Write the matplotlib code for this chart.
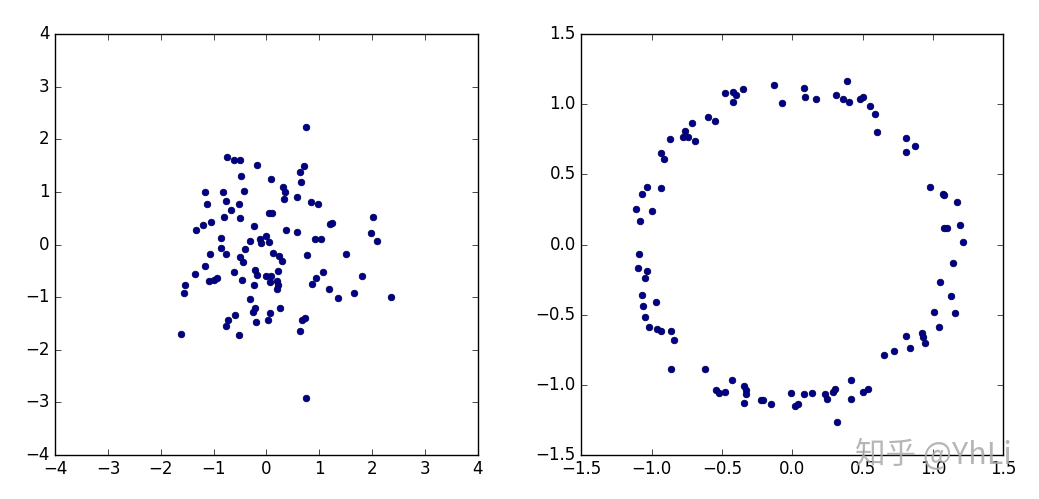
import numpy as np
import matplotlib
matplotlib.use('Agg')
import matplotlib.pyplot as plt

plt.style.use('classic')
plt.rcParams['figure.facecolor'] = 'white'
plt.rcParams['savefig.facecolor'] = 'white'

# left panel: gaussian blob
blob_x = [-0.74, -0.62, -0.51, -0.18, -0.49, 0.09, -1.16, -0.82, -0.42, -1.12,
          -0.76, -0.53, -0.68, 0.05, 0.10, -0.80, -0.51, -1.21, -1.06, -1.34,
          -0.23, -0.87, -0.32, -0.12, -0.01, 0.74, 0.71, 0.64, 0.66, 0.32,
          0.35, 0.34, 0.57, 0.85, 0.98, 1.24, 1.21, 2.02, 0.36, 0.57,
          1.97, 0.91, 1.04, 2.09, -0.11, 0.05, -0.87, -1.07, -0.77, -0.41,
          -0.50, -0.44, 0.13, 0.24, 0.30, 0.76, 1.50, -1.16, -1.36, -1.08,
          -0.99, -0.93, -0.62, -0.47, -0.21, -0.18, -0.24, -0.01, 0.09, 0.21,
          0.06, 0.20, 0.21, 0.19, -1.55, -1.56, -0.32, -0.22, -0.25, 0.06,
          0.26, -0.59, -0.73, -0.76, -0.20, 0.03, -1.62, -0.52, 1.07, 0.93,
          0.86, 1.18, 1.80, 1.35, 1.65, 2.35, 0.68, 0.73, 0.63, 0.75]
blob_y = [1.67, 1.61, 1.61, 1.52, 1.31, 1.25, 1.00, 1.00, 1.02, 0.77,
          0.82, 0.78, 0.66, 0.60, 0.59, 0.53, 0.51, 0.38, 0.42, 0.28,
          0.36, 0.13, 0.07, 0.11, 0.16, 2.24, 1.50, 1.38, 1.18, 1.09,
          1.00, 0.86, 0.91, 0.80, 0.77, 0.40, 0.39, 0.52, 0.27, 0.23,
          0.21, 0.10, 0.11, 0.06, 0.02, 0.04, -0.06, -0.18, -0.19, -0.09,
          -0.23, -0.34, -0.17, -0.21, -0.32, -0.20, -0.18, -0.40, -0.57, -0.70,
          -0.67, -0.64, -0.52, -0.68, -0.48, -0.58, -0.77, -0.59, -0.59, -0.51,
          -0.71, -0.70, -0.77, -0.84, -0.77, -0.92, -1.04, -1.21, -1.28, -1.30,
          -1.20, -1.34, -1.44, -1.56, -1.48, -1.43, -1.70, -1.72, -0.52, -0.64,
          -0.76, -0.85, -0.59, -1.01, -0.93, -1.00, -1.43, -1.39, -1.64, -2.93]

# right panel: noisy ring
ring_x = [-0.13, -0.07, -0.48, -0.42, -0.40, -0.42, -0.35, -0.60, -0.55, -0.71,
          -0.76, -0.78, -0.74, -0.69, -0.87, -0.93, -0.91, -1.03, -0.93, -1.07,
          -1.11, -1.00, -1.08, -1.09, -1.10, -1.03, -1.05, -1.07, -0.97, -1.06,
          -1.05, -1.02, -0.96, -0.93, -0.86, -0.84, -0.86, -0.62, -0.43, -0.54,
          -0.52, -0.48, -0.34, -0.33, -0.33, -0.34, -0.22, -0.21, -0.15, -0.01,
          0.02, 0.04, 0.08, 0.14, 0.23, 0.25, 0.29, 0.30, 0.32, 0.42,
          0.42, 0.50, 0.54, 0.65, 0.72, 0.81, 0.84, 0.92, 0.93, 0.94,
          1.04, 1.01, 1.16, 1.13, 1.05, 1.14, 1.21, 1.19, 1.08, 1.10,
          1.17, 1.07, 1.08, 0.98, 0.81, 0.87, 0.81, 0.60, 0.59, 0.55,
          0.48, 0.50, 0.39, 0.36, 0.40, 0.31, 0.17, 0.08, 0.09]
ring_y = [1.14, 1.01, 1.08, 1.09, 1.07, 1.02, 1.11, 0.91, 0.88, 0.87,
          0.81, 0.77, 0.77, 0.74, 0.75, 0.65, 0.61, 0.41, 0.40, 0.36,
          0.25, 0.24, 0.17, -0.07, -0.17, -0.19, -0.24, -0.36, -0.41, -0.44,
          -0.52, -0.59, -0.60, -0.62, -0.62, -0.68, -0.89, -0.89, -0.97, -1.04,
          -1.06, -1.05, -1.01, -1.04, -1.07, -1.13, -1.11, -1.11, -1.14, -1.06,
          -1.15, -1.14, -1.07, -1.06, -1.07, -1.10, -1.05, -1.03, -1.27, -0.97,
          -1.10, -1.05, -1.03, -0.79, -0.76, -0.65, -0.74, -0.63, -0.66, -0.70,
          -0.59, -0.48, -0.49, -0.37, -0.27, -0.13, 0.02, 0.14, 0.12, 0.12,
          0.30, 0.36, 0.35, 0.41, 0.76, 0.70, 0.66, 0.80, 0.93, 0.99,
          1.04, 1.05, 1.17, 1.04, 1.02, 1.07, 1.04, 1.12, 1.05]

fig = plt.figure(figsize=(10.39, 4.99), dpi=100)

ax1 = fig.add_axes([55.3/1039, 44.3/499, 422.4/1039, 420.4/499])
ax1.scatter(blob_x, blob_y, c='#00008b', edgecolors='#000055', s=22, linewidths=0.6)
ax1.set_xlim(-4, 4)
ax1.set_ylim(-4, 4)

ax2 = fig.add_axes([581.3/1039, 44.3/499, 422/1039, 420.4/499])
ax2.scatter(ring_x, ring_y, c='#00008b', edgecolors='#000055', s=22, linewidths=0.6)
ax2.set_xlim(-1.5, 1.5)
ax2.set_ylim(-1.5, 1.5)

# zhihu watermark
fig.text(0.898, 0.088, '知乎 @YhLi', fontsize=22, color='#aaaaaa', alpha=0.85,
         family=['Noto Sans CJK SC', 'DejaVu Sans'], ha='center', va='center')

fig.savefig('out.png', dpi=100)
